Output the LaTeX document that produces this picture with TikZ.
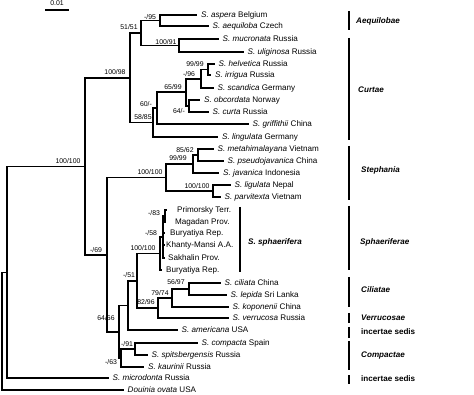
\documentclass[tikz,border=0pt]{standalone}
\usepackage{fontspec}
\setmainfont{Liberation Sans}
\begin{document}
\begin{tikzpicture}[x=1pt,y=-1pt,
  br/.style={line width=1.8pt},
  midbr/.style={line width=1.3pt},
  thinbr/.style={line width=1.1pt},
  grp/.style={line width=1.7pt},
  leaf/.style={anchor=west,inner xsep=4pt,inner ysep=0pt,text height=5pt,text depth=0pt,font=\fontsize{8.1}{9}\selectfont},
  sphleaf/.style={anchor=west,inner sep=0pt,text height=5pt,text depth=0pt,font=\fontsize{8.1}{9}\selectfont},
  sup/.style={inner sep=0pt,font=\fontsize{6.9}{7}\selectfont},
  grplab/.style={anchor=west,inner sep=0pt,font=\fontsize{8.1}{9}\selectfont\bfseries\itshape},
  grpup/.style={anchor=west,inner sep=0pt,font=\fontsize{8.1}{9}\selectfont\bfseries}]
\useasboundingbox (0,0) rectangle (474,395);

% scale bar
\coordinate (sb1) at (45,10);
\coordinate (sb2) at (69,10);
\draw[grp] (sb1) -- (sb2);
\node[sup] (sblab) at (57,3.5) {0.01};

% leaves
\node[leaf] (asp) at (197,15) {\textit{S. aspera} Belgium};
\node[leaf] (aeq) at (208.5,26) {\textit{S. aequiloba} Czech};
\node[leaf] (muc) at (218.5,39) {\textit{S. mucronata} Russia};
\node[leaf] (uli) at (243.5,52) {\textit{S. uliginosa} Russia};
\node[leaf] (hel) at (214.5,64) {\textit{S. helvetica} Russia};
\node[leaf] (irr) at (211,75) {\textit{S. irrigua} Russia};
\node[leaf] (sca) at (213.5,88) {\textit{S. scandica} Germany};
\node[leaf] (obc) at (200,100) {\textit{S. obcordata} Norway};
\node[leaf] (cur) at (208.5,112) {\textit{S. curta} Russia};
\node[leaf] (gri) at (248.5,124) {\textit{S. griffithii} China};
\node[leaf] (lin) at (218,137) {\textit{S. lingulata} Germany};
\node[leaf] (met) at (213.5,149) {\textit{S. metahimalayana} Vietnam};
\node[leaf] (pse) at (223.5,161) {\textit{S. pseudojavanica} China};
\node[leaf] (jav) at (219,173) {\textit{S. javanica} Indonesia};
\node[leaf] (lig) at (230.5,185) {\textit{S. ligulata} Nepal};
\node[leaf] (par) at (220.5,197) {\textit{S. parvitexta} Vietnam};

\node[sphleaf] (prim) at (177,210) {Primorsky Terr.};
\node[sphleaf] (mag) at (175,222) {Magadan Prov.};
\node[sphleaf] (bur1) at (170,233) {Buryatiya Rep.};
\node[sphleaf] (khan) at (166,245) {Khanty-Mansi A.A.};
\node[sphleaf] (sak) at (168,258) {Sakhalin Prov.};
\node[sphleaf] (bur2) at (166,270) {Buryatiya Rep.};
\coordinate (tprim) at (167,210);
\coordinate (tmag) at (165.5,222);
\coordinate (tbur1) at (164.5,233);
\coordinate (tkhan) at (164.5,245);
\coordinate (tsak) at (164.5,258);
\coordinate (tbur2) at (161.5,270);

\node[leaf] (cil) at (220.5,283) {\textit{S. ciliata} China};
\node[leaf] (lep) at (226.5,295) {\textit{S. lepida} Sri Lanka};
\node[leaf] (kop) at (228.5,307) {\textit{S. koponenii} China};
\node[leaf] (ver) at (228.5,318) {\textit{S. verrucosa} Russia};
\node[leaf] (ame) at (177.5,330) {\textit{S. americana} USA};
\node[leaf] (com) at (197.5,343) {\textit{S. compacta} Spain};
\node[leaf] (spi) at (147.5,355) {\textit{S. spitsbergensis} Russia};
\node[leaf] (kau) at (144,367) {\textit{S. kaurinii} Russia};
\node[leaf] (mic) at (108.5,378) {\textit{S. microdonta} Russia};
\node[leaf] (ova) at (123.5,390) {\textit{Douinia ovata} USA};

% internal nodes
\coordinate (n95) at (160,20.5);
\coordinate (n10091) at (179,45.5);
\coordinate (n5151) at (141,33);
\coordinate (n9999a) at (208,69.5);
\coordinate (n96) at (201,78.75);
\coordinate (n64) at (189,106);
\coordinate (n6599) at (186,92.4);
\coordinate (n60) at (157,108);
\coordinate (n5885) at (153,122.5);
\coordinate (n10098) at (130,78);
\coordinate (n8562) at (198,155);
\coordinate (n9999b) at (193,164);
\coordinate (n100i) at (213,191);
\coordinate (n100s) at (166,177.5);
\coordinate (n83) at (165,216);
\coordinate (n58) at (163,237);
\coordinate (n100sph) at (160,253.5);
\coordinate (n5697) at (189,289);
\coordinate (n7974) at (172,298);
\coordinate (n8296) at (158,308);
\coordinate (n51) at (137,281);
\coordinate (nam) at (128,305.5);
\coordinate (n91) at (135,349);
\coordinate (n63) at (121,358);
\coordinate (n6466) at (119,332);
\coordinate (n69) at (107,255);
\coordinate (n100r) at (85,166.5);
\coordinate (nmic) at (7,272.5);
\coordinate (root) at (2,331);

% branches
\draw[br] (n95) |- (asp.west) (n95) |- (aeq.west);
\draw[br] (n10091) |- (muc.west) (n10091) |- (uli.west);
\draw[br] (n5151) |- (n95) (n5151) |- (n10091);
\draw[br] (n9999a) |- (hel.west) (n9999a) |- (irr.west);
\draw[br] (n96) |- (n9999a) (n96) |- (sca.west);
\draw[br] (n64) |- (obc.west) (n64) |- (cur.west);
\draw[br] (n6599) |- (n96) (n6599) |- (n64);
\draw[br] (n60) |- (n6599) (n60) |- (gri.west);
\draw[br] (n5885) |- (n60) (n5885) |- (lin.west);
\draw[br] (n10098) |- (n5151) (n10098) |- (n5885);

\draw[br] (n8562) |- (met.west) (n8562) |- (pse.west);
\draw[br] (n9999b) |- (n8562) (n9999b) |- (jav.west);
\draw[br] (n100i) |- (lig.west) (n100i) |- (par.west);
\draw[br] (n100s) |- (n9999b) (n100s) |- (n100i);

\draw[br] (n83) |- (tprim) (n83) |- (tmag);
\draw[br] (n58) |- (n83) (n58) |- (tbur1) (n58) |- (tkhan) (n58) |- (tsak);
\draw[br] (n100sph) |- (n58) (n100sph) |- (tbur2);

\draw[br] (n5697) |- (cil.west) (n5697) |- (lep.west);
\draw[br] (n7974) |- (n5697) (n7974) |- (kop.west);
\draw[br] (n8296) |- (n7974) (n8296) |- (ver.west);
\draw[br] (n51) |- (n100sph) (n51) |- (n8296);
\draw[br] (nam) |- (n51) (nam) |- (ame.west);
\draw[br] (n91) |- (com.west) (n91) |- (spi.west);
\draw[br] (n63) |- (n91) (n63) |- (kau.west);
\draw[br] (n6466) |- (nam) (n6466) |- (n63);
\draw[midbr] (n69) |- (n100s) (n69) |- (n6466);
\draw[thinbr] (n100r) |- (n10098) (n100r) |- (n69);
\draw[thinbr] (nmic) |- (n100r) (nmic) |- (mic.west);
\draw[br] (root) |- (nmic) (root) |- (ova.west);

% support values
\node[sup] (s95) at (150,17) {-/95};
\node[sup] (s5151) at (129,27) {51/51};
\node[sup] (s10091) at (166,42) {100/91};
\node[sup] (s10098) at (115,72) {100/98};
\node[sup] (s9999a) at (195,64) {99/99};
\node[sup] (s96) at (189,74) {-/96};
\node[sup] (s6599) at (173,87) {65/99};
\node[sup] (s64) at (179,111) {64/-};
\node[sup] (s60) at (146,104) {60/-};
\node[sup] (s5885) at (143,117) {58/85};
\node[sup] (s8562) at (185,150) {85/62};
\node[sup] (s9999b) at (178,158) {99/99};
\node[sup] (s100s) at (150,172) {100/100};
\node[sup] (s100i) at (197,186) {100/100};
\node[sup] (s83) at (154,213) {-/83};
\node[sup] (s58) at (151,233) {-/58};
\node[sup] (s100sph) at (143,248) {100/100};
\node[sup] (s51) at (129,275) {-/51};
\node[sup] (s5697) at (176,282) {56/97};
\node[sup] (s7974) at (160,293) {79/74};
\node[sup] (s8296) at (146,302) {82/96};
\node[sup] (s91) at (127,344) {-/91};
\node[sup] (s63) at (111,362) {-/63};
\node[sup] (s6466) at (106,318) {64/66};
\node[sup] (s69) at (96,250) {-/69};
\node[sup] (s100r) at (68,161) {100/100};

% S. sphaerifera bracket
\coordinate (sph1) at (240,207);
\coordinate (sph2) at (240,272);
\draw[grp] (sph1) -- (sph2);
\node[grplab] (sphlab) at (248,242) {S. sphaerifera};

% group bars
\coordinate (gA1) at (349,11);   \coordinate (gA2) at (349,30);
\coordinate (gC1) at (349,38);   \coordinate (gC2) at (349,140);
\coordinate (gS1) at (349,146);  \coordinate (gS2) at (349,200);
\coordinate (gSp1) at (349,206); \coordinate (gSp2) at (349,270);
\coordinate (gCi1) at (349,277); \coordinate (gCi2) at (349,307);
\coordinate (gV1) at (349,313);  \coordinate (gV2) at (349,323);
\coordinate (gI1) at (349,327);  \coordinate (gI2) at (349,338);
\coordinate (gCo1) at (349,341); \coordinate (gCo2) at (349,370);
\coordinate (gJ1) at (349,375);  \coordinate (gJ2) at (349,384);
\draw[grp] (gA1) -- (gA2) (gC1) -- (gC2) (gS1) -- (gS2) (gSp1) -- (gSp2)
  (gCi1) -- (gCi2) (gV1) -- (gV2) (gI1) -- (gI2) (gCo1) -- (gCo2) (gJ1) -- (gJ2);

\node[grplab] (lA) at (356,21) {Aequilobae};
\node[grplab] (lC) at (358,90) {Curtae};
\node[grplab] (lS) at (361,170) {Stephania};
\node[grplab] (lSp) at (360,242) {Sphaeriferae};
\node[grplab] (lCi) at (361,290) {Ciliatae};
\node[grplab] (lV) at (361,318) {Verrucosae};
\node[grpup] (lI1) at (361,332) {incertae sedis};
\node[grplab] (lCo) at (361,356) {Compactae};
\node[grpup] (lI2) at (361,379) {incertae sedis};
\end{tikzpicture}
\end{document}
